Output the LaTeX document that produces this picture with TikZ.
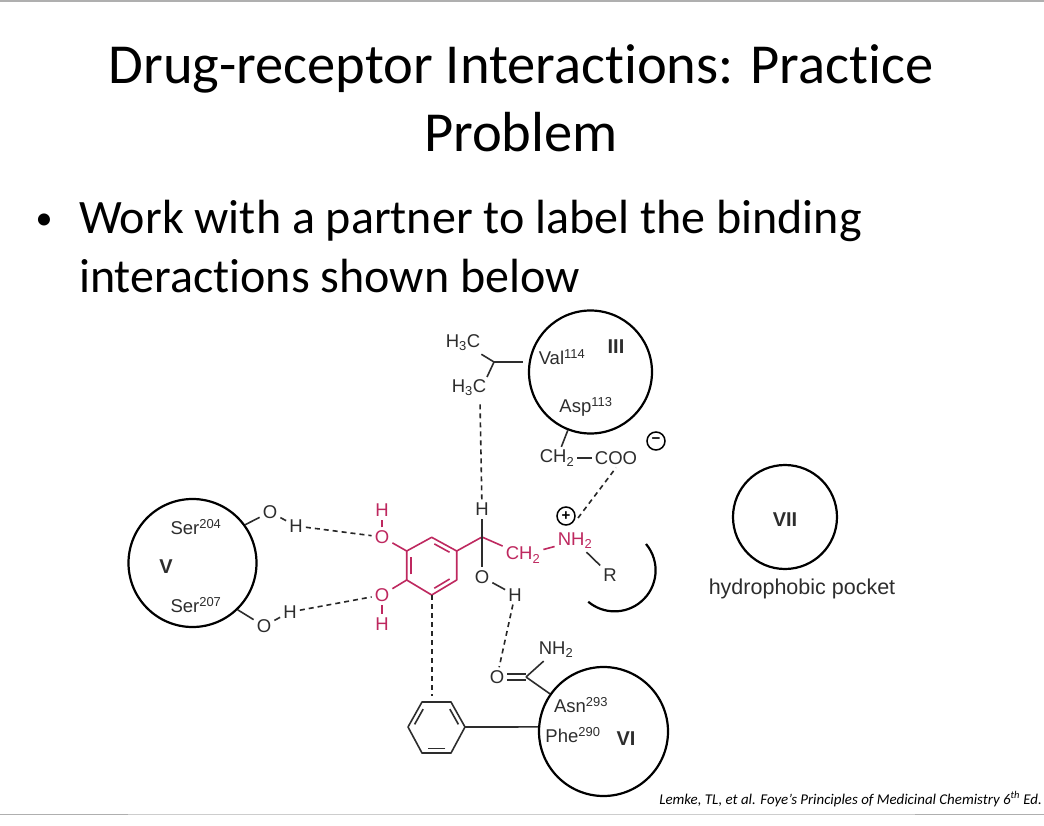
\documentclass[tikz,border=0pt]{standalone}
\usepackage{fontspec}
\usepackage{xcolor}
\usetikzlibrary{calc}
\setmainfont{Carlito}[Ligatures={NoCommon}]
\newfontfamily\chemfont{Liberation Sans}
\definecolor{drugred}{RGB}{190, 40, 95}
\definecolor{chemdark}{RGB}{45, 45, 45}
\definecolor{edgegray}{RGB}{175, 175, 175}
\definecolor{edgelight}{RGB}{205, 205, 205}
\tikzset{
    atom/.style={font=\chemfont\fontsize{18.5}{20}\selectfont, text=chemdark, inner sep=3pt},
    redatom/.style={atom, text=drugred},
    site/.style={circle, draw=black, line width=2.2pt, inner sep=0pt},
    sitelabel/.style={font=\chemfont\bfseries\fontsize{20}{22}\selectfont, text=chemdark, inner sep=0pt},
    bond/.style={draw=chemdark, line width=1.6pt},
    redbond/.style={draw=drugred, line width=1.6pt},
    hbond/.style={draw=black!85, line width=1.6pt, dash pattern=on 5pt off 4pt},
    charge/.style={circle, draw=black, line width=1.5pt, minimum size=18pt, inner sep=0pt, font=\chemfont\bfseries\fontsize{15}{15}\selectfont}
}
\begin{document}
\begin{tikzpicture}[x=1pt, y=-1pt]
    \useasboundingbox (0,0) rectangle (1044,826);
    \fill[white] (0,0) rectangle (1044,826);
    \draw[edgegray, line width=2pt] (0,1) -- (1044,1);
    \draw[edgelight, line width=1.6pt] (0,814.5) -- (1044,814.5);
    \draw[edgegray, line width=1.6pt] (0,814.5) -- (128,814.5);
    \draw[edgegray, line width=1.6pt] (915,814.5) -- (1044,814.5);

    \node[font=\fontsize{56.5}{68}\selectfont, align=center, text=black] (title) at (521,98) {Drug-receptor Interactions: Practice\\Problem};
    \node[font=\fontsize{34}{40}\selectfont, text=black, inner sep=0pt] (bullet) at (44,222) {\textbullet};
    \node[font=\fontsize{48}{59}\selectfont, align=left, text=black, anchor=west, inner sep=0pt] (task) at (79,247) {Work with a partner to label the binding\\interactions shown below};

    \node[site, minimum size=128pt] (five) at (192.5,563) {};
    \node[site, minimum size=123pt] (three) at (590.5,372) {};
    \node[site, minimum size=129pt] (six) at (603.5,731.5) {};
    \node[site, minimum size=104pt] (seven) at (785,517) {};

    \node[sitelabel] (labelv) at (166,567) {V};
    \node[sitelabel] (labeliii) at (616,347) {III};
    \node[sitelabel] (labelvi) at (626,739) {VI};
    \node[sitelabel] (labelvii) at (785,520) {VII};
    \node[atom, font=\chemfont\fontsize{21.5}{24}\selectfont] (pocket) at (802,589) {hydrophobic pocket};

    \node[atom] (ser204) at (196,527) {Ser\textsuperscript{204}};
    \node[atom] (ser207) at (196,605) {Ser\textsuperscript{207}};
    \node[atom] (val) at (562,357) {Val\textsuperscript{114}};
    \node[atom] (asp) at (586,407) {Asp\textsuperscript{113}};
    \node[atom] (asn) at (581,705) {Asn\textsuperscript{293}};
    \node[atom] (phe) at (573,735) {Phe\textsuperscript{290}};

    \node[atom] (oa) at (270,512) {O};
    \node[atom] (ha) at (296,526) {H};
    \node[atom] (ob) at (264,626) {O};
    \node[atom] (hb) at (290,612) {H};
    \node[redatom] (oc) at (382,537) {O};
    \node[redatom] (hc) at (382,510) {H};
    \node[redatom] (od) at (382,595) {O};
    \node[redatom] (hd) at (382,624) {H};

    \coordinate (ra) at (431.7,537.3);
    \coordinate (rb) at (456.7,551);
    \coordinate (rc) at (456.7,580);
    \coordinate (rd) at (431.7,595);
    \coordinate (re) at (406.7,580);
    \coordinate (rf) at (406.7,551);
    \coordinate (rmid) at (431.7,566);

    \coordinate (chain) at (482,537);
    \node[atom] (hchain) at (482,509) {H};
    \node[atom] (ochain) at (482,577) {O};
    \node[atom] (hoh) at (515,595) {H};
    \node[redatom] (ch2) at (523,555) {CH\textsubscript{2}};
    \node[redatom] (nh2) at (575,541) {NH\textsubscript{2}};
    \node[atom] (rgroup) at (610,575) {R};
    \node[charge] (plus) at (566,516) {+};
    \node[charge] (minus) at (656,441) {\textminus};

    \node[atom] (ch2b) at (557,458) {CH\textsubscript{2}};
    \node[atom] (coo) at (616,458) {COO};
    \node[atom] (methyla) at (463,343) {H\textsubscript{3}C};
    \node[atom] (methylb) at (469,388) {H\textsubscript{3}C};
    \coordinate (fork) at (494,362);
    \coordinate (forkend) at (523,362);
    \coordinate (forkdown) at (487,377);
    \coordinate (methyldash) at (480,402);
    \coordinate (nhdash) at (578,518);

    \node[atom] (oamide) at (497,677) {O};
    \coordinate (camide) at (526,677);
    \node[atom] (nh2b) at (556,650) {NH\textsubscript{2}};

    \coordinate (pa) at (422,702);
    \coordinate (pb) at (451,702);
    \coordinate (pc) at (465,727);
    \coordinate (pd) at (451,753);
    \coordinate (pe) at (422,753);
    \coordinate (pf) at (408,727);
    \coordinate (pmid) at (436.5,727);
    \coordinate (ptop) at (431.7,696);

    \draw[bond] (five.36) -- (oa);
    \draw[bond] (oa) -- (ha);
    \draw[bond] (five.-46) -- (ob);
    \draw[bond] (ob) -- (hb);
    \draw[hbond] (ha) -- (oc);
    \draw[hbond] (hb) -- (od);

    \draw[redbond] (oc) -- (hc);
    \draw[redbond] (od) -- (hd);
    \draw[redbond] (oc) -- (rf);
    \draw[redbond] (od) -- (re);
    \draw[redbond, line join=round] (ra) -- (rb) -- (rc) -- (rd) -- (re) -- (rf) -- cycle;
    \foreach \a/\b in {ra/rb, rc/rd, re/rf}
        \draw[redbond, shorten >=3pt, shorten <=3pt] ($(\a)!0.18!(rmid)$) -- ($(\b)!0.18!(rmid)$);

    \draw[redbond] (rb) -- (chain);
    \draw[redbond] (chain) -- (ch2);
    \draw[redbond] (ch2) -- (nh2);
    \draw[bond] (chain) -- (hchain);
    \draw[bond] (chain) -- (ochain);
    \draw[bond] (ochain) -- (hoh);
    \draw[bond] (nh2) -- (rgroup);
    \draw[hbond] (hchain) -- (methyldash);
    \draw[hbond] (nhdash) -- (coo.south);
    \draw[hbond] (rd) -- (ptop);
    \draw[hbond] (hoh) -- (oamide);

    \draw[bond] (fork) -- (methyla);
    \draw[bond] (fork) -- (forkdown);
    \draw[bond] (fork) -- (forkend);
    \draw[bond] (three) -- (ch2b);
    \draw[bond] (ch2b) -- (coo);

    \draw[bond] (camide) -- (six);
    \draw[bond] (camide) -- (nh2b);
    \draw[bond, transform canvas={yshift=2.8pt}] (oamide) -- (camide);
    \draw[bond, transform canvas={yshift=-2.8pt}] (oamide) -- (camide);

    \draw[bond, line join=round] (pa) -- (pb) -- (pc) -- (pd) -- (pe) -- (pf) -- cycle;
    \foreach \a/\b in {pb/pc, pd/pe, pf/pa}
        \draw[bond, shorten >=3pt, shorten <=3pt] ($(\a)!0.18!(pmid)$) -- ($(\b)!0.18!(pmid)$);
    \draw[bond] (pc) -- (six.176);

    \coordinate (pocketa) at (646,544);
    \draw[black, line width=2.2pt] (pocketa) arc[start angle=40, end angle=-130, radius=41pt];

    \node[font=\itshape\fontsize{14.9}{18}\selectfont, text=black, anchor=east, inner sep=0pt] (cite) at (1042,799) {Lemke, TL, et al. Foye's Principles of Medicinal Chemistry 6\textsuperscript{th} Ed.};
\end{tikzpicture}
\end{document}
